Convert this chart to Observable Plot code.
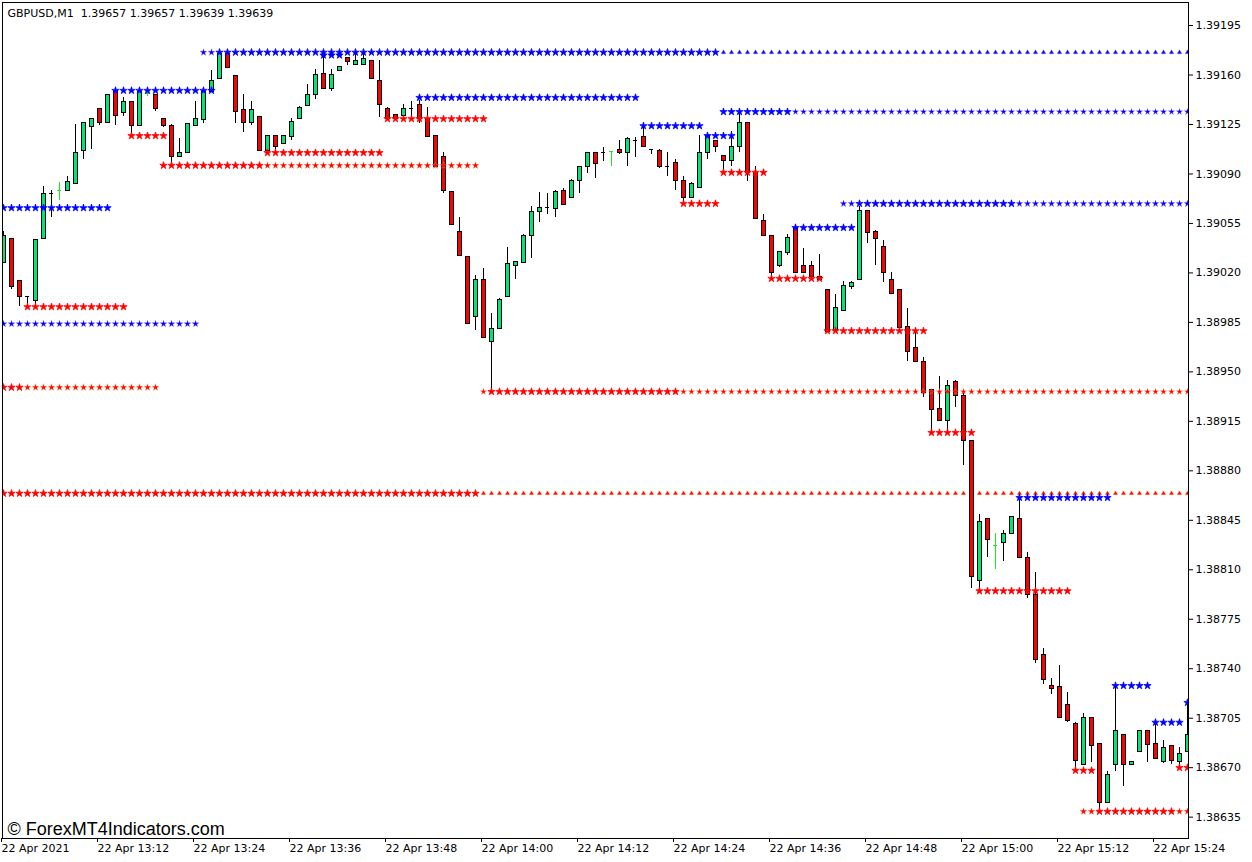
<!DOCTYPE html>
<html>
<head>
<meta charset="utf-8">
<script src="https://cdn.jsdelivr.net/npm/d3@7"></script>
<script src="https://cdn.jsdelivr.net/npm/@observablehq/plot@0.6"></script>
<style>
html,body{margin:0;padding:0;background:#fff;overflow:hidden}
svg{display:block}
</style>
</head>
<body>
<div id="chart"></div>
<script>
// One-minute bars, bar 0 = 22 Apr 2021 13:00
const opens = [
1.39027,1.39044,1.39014,1.39003,1.39000,1.39044,1.39076,1.39078,1.39078,1.39083,
1.39106,1.39123,1.39136,1.39126,1.39149,1.39133,1.39141,1.39124,1.39147,1.39146,
1.39129,1.39124,1.39102,1.39105,1.39124,1.39128,1.39148,1.39157,1.39175,1.39159,
1.39135,1.39126,1.39130,1.39106,1.39117,1.39111,1.39116,1.39129,1.39138,1.39146,
1.39161,1.39150,1.39163,1.39172,1.39167,1.39167,1.39170,1.39156,1.39136,1.39132,
1.39131,1.39136,1.39139,1.39129,1.39117,1.39102,1.39077,1.39049,1.39031,1.38989,
1.39015,1.38971,1.38980,1.39003,1.39025,1.39027,1.39046,1.39063,1.39066,1.39065,
1.39078,1.39073,1.39085,1.39095,1.39105,1.39105,1.39106,1.39107,1.39105,1.39114,
1.39116,1.39107,1.39106,1.39095,1.39098,1.39085,1.39073,1.39080,1.39105,1.39113,
1.39103,1.39099,1.39109,1.39126,1.39091,1.39057,1.39046,1.39025,1.39034,1.39052,
1.39025,1.39025,1.39017,1.39008,1.38979,1.38993,1.39010,1.39015,1.39064,1.39049,
1.39038,1.39015,1.39008,1.38982,1.38967,1.38957,1.38937,1.38924,1.38915,1.38943,
1.38933,1.38901,1.38802,1.38846,1.38827,1.38829,1.38835,1.38846,1.38818,1.38792,
1.38750,1.38728,1.38727,1.38714,1.38701,1.38672,1.38705,1.38687,1.38645,1.38672,
1.38693,1.38672,1.38681,1.38696,1.38687,1.38674,1.38685,1.38674,1.38681];
const highs = [
1.39049,1.39044,1.39014,1.39003,1.39043,1.39081,1.39078,1.39084,1.39088,1.39125,
1.39126,1.39129,1.39136,1.39146,1.39149,1.39144,1.39141,1.39148,1.39148,1.39146,
1.39129,1.39125,1.39115,1.39126,1.39141,1.39149,1.39163,1.39175,1.39175,1.39160,
1.39146,1.39141,1.39130,1.39117,1.39117,1.39117,1.39129,1.39138,1.39153,1.39164,
1.39174,1.39164,1.39166,1.39172,1.39175,1.39175,1.39170,1.39170,1.39137,1.39132,
1.39139,1.39141,1.39142,1.39137,1.39117,1.39105,1.39077,1.39059,1.39031,1.39018,
1.39023,1.38991,1.39002,1.39038,1.39028,1.39047,1.39067,1.39077,1.39076,1.39078,
1.39080,1.39086,1.39095,1.39105,1.39105,1.39109,1.39106,1.39114,1.39116,1.39116,
1.39123,1.39107,1.39107,1.39105,1.39100,1.39088,1.39084,1.39117,1.39117,1.39113,
1.39103,1.39120,1.39133,1.39126,1.39095,1.39061,1.39046,1.39035,1.39047,1.39053,
1.39037,1.39028,1.39033,1.39008,1.39005,1.39014,1.39014,1.39067,1.39064,1.39050,
1.39043,1.39020,1.39008,1.38995,1.38979,1.38960,1.38937,1.38947,1.38944,1.38944,
1.38935,1.38901,1.38849,1.38846,1.38836,1.38838,1.38847,1.38862,1.38822,1.38808,
1.38754,1.38733,1.38742,1.38723,1.38702,1.38708,1.38705,1.38687,1.38667,1.38729,
1.38693,1.38674,1.38696,1.38696,1.38702,1.38689,1.38685,1.38684,1.38715];
const lows = [
1.39027,1.39008,1.38996,1.38997,1.38998,1.39044,1.39059,1.39071,1.39078,1.39083,
1.39100,1.39107,1.39124,1.39126,1.39124,1.39131,1.39117,1.39124,1.39145,1.39134,
1.39123,1.39097,1.39102,1.39105,1.39124,1.39126,1.39148,1.39157,1.39165,1.39126,
1.39119,1.39124,1.39106,1.39106,1.39107,1.39111,1.39114,1.39129,1.39138,1.39143,
1.39150,1.39148,1.39163,1.39167,1.39167,1.39167,1.39157,1.39130,1.39129,1.39128,
1.39128,1.39129,1.39126,1.39116,1.39095,1.39076,1.39054,1.39032,1.38984,1.38979,
1.38974,1.38937,1.38980,1.39003,1.39015,1.39027,1.39030,1.39056,1.39061,1.39059,
1.39068,1.39073,1.39076,1.39090,1.39087,1.39099,1.39095,1.39104,1.39095,1.39102,
1.39109,1.39104,1.39094,1.39088,1.39078,1.39069,1.39073,1.39080,1.39100,1.39105,
1.39091,1.39095,1.39105,1.39085,1.39058,1.39046,1.39017,1.39024,1.39032,1.39020,
1.39020,1.39017,1.39015,1.38978,1.38979,1.38993,1.39008,1.39015,1.39041,1.39025,
1.39013,1.39005,1.38981,1.38957,1.38957,1.38932,1.38907,1.38915,1.38907,1.38925,
1.38884,1.38797,1.38795,1.38819,1.38810,1.38816,1.38835,1.38818,1.38790,1.38744,
1.38729,1.38722,1.38705,1.38702,1.38668,1.38672,1.38674,1.38640,1.38645,1.38667,
1.38657,1.38672,1.38681,1.38674,1.38676,1.38673,1.38672,1.38669,1.38681];
const closes = [
1.39046,1.39010,1.39003,1.39003,1.39043,1.39076,1.39076,1.39078,1.39084,1.39105,
1.39126,1.39129,1.39126,1.39146,1.39131,1.39141,1.39124,1.39148,1.39147,1.39136,
1.39124,1.39102,1.39105,1.39125,1.39129,1.39148,1.39156,1.39175,1.39165,1.39134,
1.39126,1.39135,1.39106,1.39117,1.39109,1.39117,1.39127,1.39137,1.39146,1.39160,
1.39150,1.39160,1.39166,1.39169,1.39170,1.39171,1.39157,1.39139,1.39129,1.39129,
1.39136,1.39136,1.39129,1.39116,1.39095,1.39078,1.39054,1.39032,1.38984,1.39015,
1.38974,1.38980,1.39001,1.39026,1.39028,1.39046,1.39063,1.39066,1.39066,1.39077,
1.39068,1.39085,1.39095,1.39105,1.39097,1.39105,1.39106,1.39105,1.39115,1.39114,
1.39109,1.39107,1.39095,1.39095,1.39085,1.39073,1.39083,1.39105,1.39117,1.39109,
1.39099,1.39109,1.39126,1.39091,1.39058,1.39046,1.39020,1.39035,1.39045,1.39020,
1.39020,1.39017,1.39015,1.38978,1.38995,1.39011,1.39013,1.39064,1.39048,1.39044,
1.39020,1.39005,1.38981,1.38964,1.38957,1.38935,1.38923,1.38915,1.38940,1.38933,
1.38901,1.38805,1.38844,1.38831,1.38827,1.38835,1.38847,1.38818,1.38792,1.38746,
1.38732,1.38726,1.38705,1.38703,1.38675,1.38705,1.38685,1.38645,1.38665,1.38696,
1.38672,1.38674,1.38696,1.38686,1.38676,1.38684,1.38675,1.38680,1.38693];
const pale_doji_bars = [7, 18, 76, 124];

// Indicator levels: [price, first bar, last bar]
const blueBold = [[1.39066,0,13],[1.39149,14,26],[1.39176,27,89],[1.39174,40,42],[1.39144,52,79],[1.39124,80,87],[1.39117,88,91],[1.39134,90,98],[1.39052,99,106],[1.39069,107,126],[1.38861,127,138],[1.38728,139,143],[1.38702,144,147],[1.38716,148,148]];
const blueStar = [[1.38984,0,24],[1.39176,25,26],[1.39069,105,106],[1.39069,127,148]];
const blueThin = [[1.39134,99,148]];
const blueTri = [[1.39176,90,148]];
const redBold = [[1.38996,3,15],[1.38939,0,2],[1.39117,16,20],[1.39096,20,32],[1.39105,33,47],[1.39129,48,60],[1.38936,61,84],[1.39069,85,89],[1.39091,90,95],[1.39016,96,102],[1.38979,103,115],[1.38907,116,121],[1.38795,122,133],[1.38668,134,136],[1.38639,137,146],[1.38670,147,148],[1.38864,0,59]];
const redStar = [[1.38939,3,19],[1.39096,33,59],[1.38639,135,136],[1.38639,147,148]];
const redThin = [[1.38936,60,60],[1.38936,85,148]];
const redTri = [[1.38864,60,148]];

const priceTicks = [1.39195,1.39160,1.39125,1.39090,1.39055,1.39020,1.38985,1.38950,1.38915,1.38880,1.38845,1.38810,1.38775,1.38740,1.38705,1.38670,1.38635];
const timeTickBars = [0,12,24,36,48,60,72,84,96,108,120,132,144];
const timeTickLabels = ["22 Apr 2021","22 Apr 13:12","22 Apr 13:24","22 Apr 13:36","22 Apr 13:48","22 Apr 14:00","22 Apr 14:12","22 Apr 14:24","22 Apr 14:36","22 Apr 14:48","22 Apr 15:00","22 Apr 15:12","22 Apr 15:24"];
const headerText = "GBPUSD,M1  1.39657 1.39657 1.39639 1.39639";
const watermarkText = "\u00A9 ForexMT4Indicators.com";

const bars = opens.map((o,i)=>({i,o,h:highs[i],l:lows[i],c:closes[i],pale:pale_doji_bars.includes(i)}));
const candles = bars.filter(d=>d.o!==d.c);
const dojis = bars.filter(d=>d.o===d.c);
const expand = levels => levels.flatMap(([p,a,b]) => d3.range(a,b+1).map(i=>({i,p})));

const BLUE="#0000ff", RED="#ff0000", BLUE_H="#8f6cff", RED_H="#ff9a5a";
const FONT="'DejaVu Sans',sans-serif";
const CRISP="crispEdges";
function stars(levels,color,halo,opts){
  return Plot.dot(expand(levels),{x:"i",y:"p",symbol:opts.symbol||"star",r:opts.r,fill:color,stroke:halo,strokeWidth:opts.sw,strokeOpacity:opts.so,clip:"frame"});
}

const chart = Plot.plot({
  width:1252,height:862,
  marginLeft:2,marginRight:64,marginTop:2,marginBottom:24,
  style:{background:"#fff",fontFamily:FONT,fontSize:"11px",color:"#000",overflow:"visible"},
  x:{type:"linear",domain:[-0.125,148.125],label:null},
  y:{type:"linear",domain:[1.386199,1.392113],label:null},
  marks:[
    // levels under candles
    stars(redTri,RED,RED_H,{symbol:"triangle",r:1.7,sw:0.7,so:0.6}),
    stars(blueTri,BLUE,BLUE_H,{symbol:"triangle",r:1.7,sw:0.7,so:0.6}),
    // wicks
    Plot.ruleX(bars.filter(d=>!d.pale),{x:"i",y1:"l",y2:"h",stroke:"#000",strokeWidth:1,shapeRendering:CRISP,clip:"frame"}),
    Plot.ruleX(bars.filter(d=>d.pale),{x:"i",y1:"l",y2:"h",stroke:"#24e524",strokeWidth:1,shapeRendering:CRISP}),
    // bodies
    Plot.rect(candles,{x1:d=>d.i-0.25,x2:d=>d.i+0.25,y1:"o",y2:"c",fill:d=>d.c>d.o?"#00e676":"#ff0000",stroke:"#000",strokeWidth:1,shapeRendering:CRISP,clip:"frame"}),
    Plot.ruleY(dojis.filter(d=>!d.pale),{y:"o",x1:d=>d.i-0.3,x2:d=>d.i+0.3,stroke:"#000",strokeWidth:1,shapeRendering:CRISP}),
    Plot.ruleY(dojis.filter(d=>d.pale),{y:"o",x1:d=>d.i-0.3,x2:d=>d.i+0.3,stroke:"#24e524",strokeWidth:1,shapeRendering:CRISP}),
    // levels over candles
    stars(blueThin,BLUE,BLUE_H,{r:2,sw:0.6,so:0.5}),
    stars(redThin,RED,RED_H,{r:2,sw:0.6,so:0.5}),
    stars(blueStar,BLUE,BLUE_H,{r:2.2,sw:0.6,so:0.5}),
    stars(redStar,RED,RED_H,{r:2.2,sw:0.6,so:0.5}),
    stars(blueBold,BLUE,BLUE,{r:2.3,sw:0.9,so:0.85}),
    stars(redBold,RED,RED,{r:2.3,sw:0.9,so:0.85}),
    // frame and axes
    Plot.frame({stroke:"#000",strokeWidth:1}),
    Plot.axisY({anchor:"right",ticks:priceTicks,tickFormat:d=>d.toFixed(5),tickSize:4,tickPadding:3,label:null,fontSize:11,stroke:"#000"}),
    Plot.axisX({anchor:"bottom",ticks:timeTickBars,tickFormat:d=>timeTickLabels[timeTickBars.indexOf(d)],tickSize:4,tickPadding:2,label:null,textAnchor:"start",dx:-2,fontSize:11,stroke:"#000"}),
    // text
    Plot.text([headerText],{frameAnchor:"top-left",dx:5,dy:7,text:d=>d,textAnchor:"start",lineAnchor:"top",fontFamily:FONT,fontSize:11,fill:"#000"}),
    Plot.text([watermarkText],{frameAnchor:"bottom-left",dx:5,dy:-4,text:d=>d,textAnchor:"start",lineAnchor:"bottom",fontFamily:"'Liberation Sans',Arial,sans-serif",fontSize:18,fill:"#000"})
  ]
});
document.getElementById("chart").appendChild(chart);
</script>
</body>
</html>
